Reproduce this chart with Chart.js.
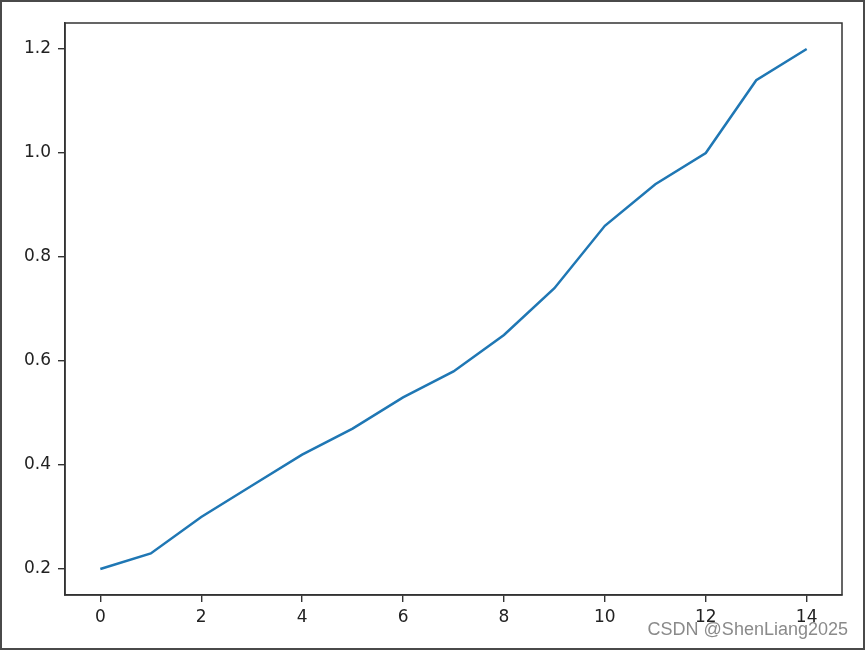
<!DOCTYPE html>
<html>
<head>
<meta charset="utf-8">
<script src="https://cdn.jsdelivr.net/npm/chart.js@4/dist/chart.umd.min.js"></script>
<style>
  html, body { margin: 0; padding: 0; background: #fff; }
  #wrap { position: relative; width: 865px; height: 650px; overflow: hidden; }
  #chart { position: absolute; left: 0; top: 0; }
  #frame { position: absolute; left: 0; top: 0; width: 865px; height: 650px; box-sizing: border-box;
           border: 2px solid #4a4a4a; pointer-events: none; }
  #mark { position: absolute; right: 17px; top: 619px; font: 18px "Liberation Sans", Arial, sans-serif;
          color: #8a8a8a; white-space: nowrap; }
</style>
</head>
<body>
<div id="wrap">
  <canvas id="chart" width="865" height="650"></canvas>
  <div id="frame"></div>
  <div id="mark">CSDN @ShenLiang2025</div>
</div>
<script>
const xValues = [0, 1, 2, 3, 4, 5, 6, 7, 8, 9, 10, 11, 12, 13, 14];
const yValues = [0.20, 0.23, 0.30, 0.36, 0.42, 0.47, 0.53, 0.58, 0.65, 0.74, 0.86, 0.94, 1.00, 1.14, 1.20];
const xTicks = [0, 2, 4, 6, 8, 10, 12, 14];
const yTicks = [0.2, 0.4, 0.6, 0.8, 1.0, 1.2];

const axisColor = '#333';
const textColor = '#222';
const tickFont = { family: 'DejaVu Sans', size: 17 };

// matplotlib style box round the plot area
const frame = {
  id: 'frame',
  afterDraw(chart) {
    const a = chart.chartArea, c = chart.ctx;
    c.save();
    c.strokeStyle = axisColor;
    c.lineWidth = 1.5;
    c.strokeRect(a.left, a.top, a.right - a.left, a.bottom - a.top);
    c.restore();
  }
};

new Chart(document.getElementById('chart'), {
  type: 'line',
  data: {
    datasets: [{
      data: xValues.map((x, i) => ({ x, y: yValues[i] })),
      borderColor: '#1f77b4',
      borderWidth: 2.5,
      pointRadius: 0,
      tension: 0,
      fill: false
    }]
  },
  options: {
    responsive: false,
    animation: false,
    devicePixelRatio: 1,
    layout: { padding: { left: 0, top: 23, right: 23, bottom: 0 } },
    plugins: { legend: { display: false }, tooltip: { enabled: false } },
    scales: {
      x: {
        type: 'linear',
        min: -0.7,
        max: 14.7,
        afterBuildTicks: s => { s.ticks = xTicks.map(v => ({ value: v })); },
        afterFit: s => { s.height = 55; },
        grid: { drawOnChartArea: false, drawTicks: true, tickLength: 7, color: axisColor, lineWidth: 1.4 },
        border: { display: true, color: axisColor, width: 1.5 },
        ticks: { color: textColor, font: tickFont, padding: 5, maxRotation: 0, callback: v => String(v) }
      },
      y: {
        type: 'linear',
        min: 0.15,
        max: 1.25,
        afterBuildTicks: s => { s.ticks = yTicks.map(v => ({ value: v })); },
        afterFit: s => { s.width = 65; },
        grid: { drawOnChartArea: false, drawTicks: true, tickLength: 7, color: axisColor, lineWidth: 1.4 },
        border: { display: true, color: axisColor, width: 1.5 },
        ticks: { color: textColor, font: tickFont, padding: 7, callback: v => Number(v).toFixed(1) }
      }
    }
  },
  plugins: [frame]
});
</script>
</body>
</html>
